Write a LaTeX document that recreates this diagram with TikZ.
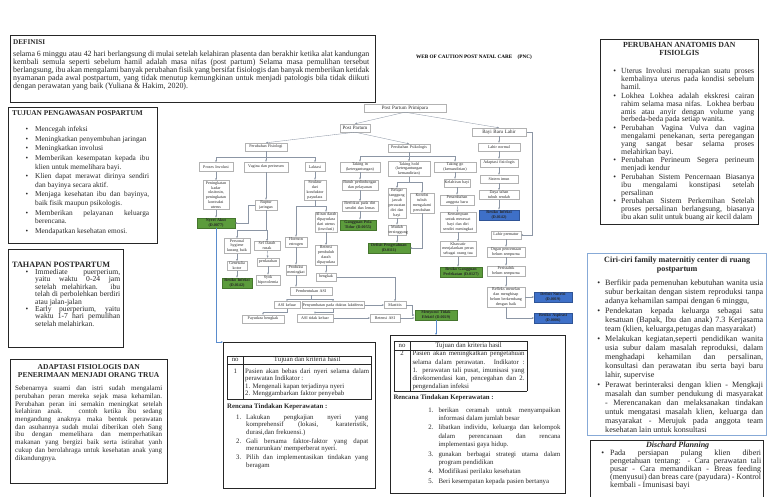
\documentclass[tikz,border=0pt]{standalone}
\usepackage{fontspec}
\setmainfont{Liberation Serif}
\usepackage{array}
\usepackage{enumitem}
\usetikzlibrary{arrows.meta, positioning}
\definecolor{boxgray}{RGB}{178,178,178}
\definecolor{linegray}{RGB}{140,150,165}
\definecolor{dxgreen}{RGB}{92,156,60}
\definecolor{dxblue}{RGB}{62,112,200}
\definecolor{linkblue}{RGB}{90,140,205}
\definecolor{ciriblue}{RGB}{135,170,215}
\definecolor{teks}{RGB}{40,40,40}
\tikzstyle{box}=[draw=boxgray,fill=white,rectangle,font=\flowf,align=center,inner sep=0.8pt,minimum height=8pt,text=teks]
\tikzstyle{kepala}=[box,font=\kepalaf]
\tikzstyle{dgreen}=[box,draw=dxgreen!75!black,fill=dxgreen,font=\flowf\bfseries,text=black!85]
\tikzstyle{dblue}=[box,draw=dxblue!75!black,fill=dxblue,font=\flowf\bfseries,text=black!85]
\tikzstyle{panel}=[draw=black!85,line width=0.9pt]
\tikzstyle{paneltext}=[anchor=north west,inner sep=0pt,text=teks]
\tikzstyle{conn}=[draw=linegray,line width=0.35pt]
\tikzstyle{biru}=[draw=linkblue,line width=0.5pt]
\newcommand{\flowf}{\fontsize{4.1}{4.9}\selectfont}
\newcommand{\kepalaf}{\fontsize{5}{5.8}\selectfont}
\newcommand{\judulf}{\fontsize{5.2}{6}\selectfont\bfseries}
\hyphenpenalty=10000
\exhyphenpenalty=10000
\emergencystretch=2em

\begin{document}
\begin{tikzpicture}[x=1pt,y=-1pt,>={Stealth[length=2.2pt,width=1.8pt]}]
    \useasboundingbox (0,0) rectangle (768,497);
    \fill[white] (0,0) rectangle (768,497);

    \node[font=\judulf] (judul) at (474,57) {WEB OF CAUTION POST NATAL CARE\quad(PNC)};

    % panel kiri
    \draw[panel] (10,35) rectangle (375,102);
    \node[paneltext] (definisi) at (13,40) {\begin{minipage}{356pt}\fontsize{7.9}{8.2}\selectfont
    {\fontsize{7.2}{8.2}\selectfont\textbf{DEFINISI}}\par\vspace{3pt}
    selama 6 minggu atau 42 hari berlangsung di mulai setelah kelahiran plasenta dan berakhir ketika alat kandungan kembali semula seperti sebelum hamil adalah masa nifas (post partum) Selama masa pemulihan tersebut berlangsung, ibu akan mengalami banyak perubahan fisik yang bersifat fisiologis dan banyak memberikan ketidak nyamanan pada awal postpartum, yang tidak menutup kemungkinan untuk menjadi patologis bila tidak diikuti dengan perawatan yang baik (Yuliana \& Hakim, 2020).
    \end{minipage}};

    \draw[panel] (8,107) rectangle (157,243);
    \node[paneltext] (tujuan) at (12,110.5) {\begin{minipage}{137pt}\fontsize{7.35}{8.3}\selectfont
    \textbf{TUJUAN PENGAWASAN POSPARTUM}
    \begin{itemize}[label=\textbullet, leftmargin=23pt, labelsep=7pt, topsep=7.5pt, itemsep=1.5pt, parsep=0pt, partopsep=0pt]
    \item Mencegah infeksi
    \item Meningkatkan penyembuhan jaringan
    \item Meningkatkan involusi
    \item Memberikan kesempatan kepada ibu klien untuk memelihara bayi.
    \item Klien dapat merawat dirinya sendiri dan bayinya secara aktif.
    \item Menjaga kesehatan ibu dan bayinya, baik fisik maupun psikologis.
    \item Memberikan pelayanan keluarga berencana.
    \item Mendapatkan kesehatan emosi.
    \end{itemize}
    \end{minipage}};

    \draw[panel] (8,249) rectangle (123,347);
    \node[paneltext] (tahapan) at (12,261.5) {\begin{minipage}{108pt}\fontsize{7.6}{7.4}\selectfont
    {\fontsize{8.2}{7.4}\selectfont\textbf{TAHAPAN POSTPARTUM}}
    \begin{itemize}[label=\textbullet, leftmargin=23pt, labelsep=7pt, topsep=0pt, itemsep=0pt, parsep=0pt, partopsep=0pt]
    \item Immediate puerperium, yaitu waktu 0-24 jam setelah melahirkan. ibu telah di perbolehkan berdiri atau jalan-jalan
    \item Early puerperium, yaitu waktu 1-7 hari pemulihan setelah melahirkan.
    \end{itemize}
    \end{minipage}};

    \draw[panel] (10,359) rectangle (167,483);
    \node[paneltext] (adaptasi) at (15,364) {\begin{minipage}{147pt}\fontsize{7}{7.7}\selectfont
    {\centering\fontsize{7.5}{7.9}\selectfont\textbf{ADAPTASI FISIOLOGIS DAN\\PENERIMAAN MENJADI ORANG TRUA}\par}\vspace{6pt}
    Sebenarnya suami dan istri sudah mengalami perubahan peran mereka sejak masa kehamilan. Perubahan peran ini semakin meningkat setelah kelahiran anak. contoh ketika ibu sedang mengandung anaknya maka bentuk perawatan dan asuhannya sudah mulai diberikan oleh Sang ibu dengan memelihara dan memperhatikan makanan yang bergizi baik serta istirahat yanh cukup dan berolahraga untuk kesehatan anak yang dikandungnya.
    \end{minipage}};

    % panel kanan
    \begin{scope}
    \clip (600,39) rectangle (758,223.5);
    \node[paneltext] (anatomi) at (604,42) {\begin{minipage}{150pt}\fontsize{7.8}{7.95}\selectfont
    {\centering\textbf{PERUBAHAN ANATOMIS DAN\\FISIOLGIS}\par}
    \begin{itemize}[label=\textbullet, leftmargin=17pt, labelsep=5pt, topsep=10.5pt, itemsep=0.5pt, parsep=0pt, partopsep=0pt]
    \item Uterus Involusi merupakan suatu proses kembalinya uterus pada kondisi sebelum hamil.
    \item Lokhea Lokhea adalah ekskresi cairan rahim selama masa nifas. Lokhea berbau amis atau anyir dengan volume yang berbeda-beda pada setiap wanita.
    \item Perubahan Vagina Vulva dan vagina mengalami penekanan, serta peregangan yang sangat besar selama proses melahirkan bayi.
    \item Perubahan Perineum Segera perineum menjadi kendur
    \item Perubahan Sistem Pencernaan Biasanya ibu mengalami konstipasi setelah persalinan
    \item Perubahan Sistem Perkemihan Setelah proses persalinan berlangsung, biasanya ibu akan sulit untuk buang air kecil dalam
    \end{itemize}
    \end{minipage}};
    \end{scope}
    \draw[panel] (600,39) rectangle (758,224);

    \begin{scope}
    \clip (587,253) rectangle (766,431.5);
    \node[paneltext] (ciri) at (591,257) {\begin{minipage}{172pt}\fontsize{8.1}{9}\selectfont
    {\centering\textbf{Ciri-ciri family maternitiy center di ruang\\postpartum}\par}
    \begin{itemize}[label=\textbullet, leftmargin=14pt, labelsep=5pt, topsep=5pt, itemsep=0.8pt, parsep=0pt, partopsep=0pt]
    \item Berfikir pada pemenuhan kebutuhan wanita usia subur berkaitan dengan sistem reproduksi tanpa adanya kehamilan sampai dengan 6 minggu,
    \item Pendekatan kepada keluarga sebagai satu kesatuan (Bapak, Ibu dan anak) 7.3 Kerjasama team (klien, keluarga,petugas dan masyarakat)
    \item Melakukan kegiatan,seperti pendidikan wanita\linebreak usia subur dalam masalah reproduksi, dalam\linebreak menghadapi kehamilan dan persalinan,\linebreak konsultasi dan perawatan ibu serta bayi baru lahir, supervise
    \item Perawat berinteraksi dengan klien - Mengkaji masalah dan sumber pendukung di masyarakat - Merencanakan dan melaksanakan tindakan untuk mengatasi masalah klien, keluarga dan masyarakat - Merujuk pada anggota team kesehatan lain untuk konsultasi
    \end{itemize}
    \end{minipage}};
    \end{scope}
    \draw[draw=ciriblue,line width=0.9pt] (587,253) rectangle (766,435);

    \draw[panel] (590,440) rectangle (763,505);
    \node[paneltext] (dischard) at (594,442) {\begin{minipage}{167pt}\fontsize{8.02}{8}\selectfont
    {\centering\textbf{\textit{Dischard Planning}}\par}
    \begin{itemize}[label=\textbullet, leftmargin=16pt, labelsep=6pt, topsep=0pt, itemsep=0pt, parsep=0pt, partopsep=0pt]
    \item Pada persiapan pulang klien diberi\linebreak pengetahuan tentang: - Cara perawatan tali\linebreak pusar - Cara memandikan - Breas feeding\linebreak (menyusui) dan breas care (payudara) - Kontrol\linebreak kembali - Imunisasi bayi
    \end{itemize}
    \end{minipage}};

    % tabel
    \draw[panel] (223,342) rectangle (375,488);
    \node[paneltext] (tabel1) at (227,356) {\begin{minipage}{145pt}\fontsize{6.8}{7.5}\selectfont
    \setlength{\tabcolsep}{2pt}\setlength{\arrayrulewidth}{0.5pt}
    \begin{tabular}{|>{\centering\arraybackslash}p{11pt}|p{124pt}|}\hline
    no & \multicolumn{1}{c|}{Tujuan dan kriteria hasil}\\\hline
    1\rule{0pt}{8.5pt} & \rule{0pt}{8.5pt}Pasien akan bebas dari nyeri selama dalam perawatan Indikator :\newline 1. Mengenali kapan terjadinya nyeri\newline 2. Menggambarkan faktor penyebab\rule[-3pt]{0pt}{3pt}\\\hline
    \end{tabular}\par\vspace{3.5pt}
    \textbf{Rencana Tindakan Keperawatan :}
    \begin{enumerate}[label=\arabic*., leftmargin=19pt, rightmargin=4pt, labelsep=5pt, topsep=3.5pt, itemsep=1.5pt, parsep=0pt, partopsep=0pt]
    \item Lakukan pengkajian nyeri yang komprehensif (lokasi, karateristik, durasi,dan frekuensi.)
    \item Gali bersama faktor-faktor yang dapat menurunkan/ memperberat nyeri.
    \item Pilih dan implementasikan tindakan yang beragam
    \end{enumerate}
    \end{minipage}};

    \draw[panel] (390,335) rectangle (565,493);
    \node[paneltext] (tabel2) at (393.3,340.7) {\begin{minipage}{167pt}\fontsize{6.8}{8.2}\selectfont
    \setlength{\tabcolsep}{2pt}\setlength{\arrayrulewidth}{0.5pt}
    \begin{tabular}{|>{\centering\arraybackslash}p{12pt}|p{112pt}|}\hline
    no & \multicolumn{1}{c|}{Tujuan dan kriteria hasil}\\\hline
    2 & Pasien akan meningkatkan pengetahuan selama dalam perawatan. Indikator : 1. perawatan tali pusat, imunisasi yang direkomendasi kan, pencegahan dan 2. pengendalian infeksi\\\hline
    \end{tabular}\par\vspace{2pt}
    \textbf{Rencana Tindakan Keperawatan :}
    \begin{enumerate}[label=\arabic*., leftmargin=45pt, labelsep=5pt, topsep=4.5pt, itemsep=1.5pt, parsep=0pt, partopsep=0pt]
    \item berikan ceramah untuk menyampaikan informasi dalam jumlah besar
    \item libatkan individu, keluarga dan kelompok dalam perencanaan dan rencana implementasi gaya hidup.
    \item gunakan berbagai strategi utama dalam program pendidikan
    \item Modifikasi perilaku kesehatan
    \item Beri kesempatan kepada pasien bertanya
    \end{enumerate}
    \end{minipage}};

    % web of caution
    \node[kepala, text width=80pt] (pp0) at (405,108) {Post Partum Primipara};
    \node[kepala, text width=28pt] (pp) at (355,128) {Post Partum};
    \node[kepala, text width=53pt] (bbl) at (499,132) {Bayi Baru Lahir};
    \node[box, text width=41pt] (fis) at (266,147) {Perubahan Fisiologi};
    \node[box, text width=41pt] (psi) at (409,148) {Perubahan Psikologis};

    \node[box, text width=33pt, minimum height=9pt] (inv) at (216,167) {Proses Involusi};
    \node[box, text width=42pt, minimum height=10pt] (vag) at (266,167) {Vagina dan perineum};
    \node[box, text width=19pt, minimum height=9pt] (lak) at (315,167) {Laktasi};
    \node[box, text width=25pt] (oks) at (216,195) {Peningkatan kadar oksitosin, peningkatan kontraksi uterus};
    \node[dgreen, text width=36pt] (nyeri) at (216,223) {Nyeri Akut\\(D.0077)};
    \node[box, text width=20pt] (rup) at (266,205) {Ruptur jaringan};
    \node[box, text width=24pt] (ph) at (237,246) {Personal hygiene kurang baik};
    \node[box, text width=19pt] (gen) at (237,266) {Genetalia kotor};
    \node[dgreen, text width=28pt] (rinf1) at (237,283) {Resiko Infeksi\\(D.0142)};
    \node[box, text width=24pt] (sel) at (267,246) {Sel Darah rusak};
    \node[box, text width=21pt] (perd) at (268,262) {perdarahan};
    \node[box, text width=22pt] (syok) at (268,280) {Syok hipovolemia};
    \node[box, text width=20pt] (str) at (315,190) {Struktur dari konduktor payudara};
    \node[box, text width=20pt] (hor) at (296,242) {Hormon estrogen};
    \node[box, text width=21pt] (ali) at (326,222) {Aliran darah dipayudara dari uterus (involusi)};
    \node[box, text width=21pt] (ret) at (326,255) {Retensi pembuluh darah dipayudara};
    \node[box, text width=19pt] (beng) at (326,277) {bengkak};
    \node[box, text width=18pt] (prod) at (296,270) {Produksi meningkat};
    \node[box, text width=40pt] (pemb) at (311,291) {Pembentukan ASI};
    \node[box, text width=25pt, minimum height=7pt] (asik) at (287,305) {ASI keluar};
    \node[box, text width=61pt, minimum height=7pt] (peny) at (333,305) {Penyumbatan pada duktus laktiferus};
    \node[box, text width=20pt, minimum height=7pt] (mast) at (395,305) {Mastitis};
    \node[box, text width=40pt] (payb) at (263,319) {Payudara bengkak};
    \node[box, text width=35pt] (asit) at (315,318) {ASI tidak keluar};
    \node[box, text width=28pt] (reta) at (385,318) {Retensi ASI};
    \node[dgreen, text width=41pt] (mte) at (436,315) {Menyusui Tidak\\Efektif (D.0029)};

    \node[box, text width=38pt] (tin) at (360,167) {Taking in\\(ketergantungan)};
    \node[box, text width=40pt] (thold) at (409,169) {Taking hold\\(ketergantungan\\kemandirian)};
    \node[box, text width=40pt] (tgo) at (455,167) {Taking go\\(kemandirian)};
    \node[box, text width=34pt] (butuh) at (360,185) {Butuh perlindungan dan pelayanan};
    \node[box, text width=34pt] (fokus) at (360,206) {Berfokus pada diri sendiri dan lemas};
    \node[dgreen, text width=35pt] (gpt) at (358,225) {Gangguan Pola\\Tidur (D.0055)};
    \node[box, text width=17pt] (bel) at (397,203) {Belajar tanggung jawab perawatan diri dan bayi};
    \node[box, text width=23pt] (kond) at (422,203) {Kondisi tubuh mengalami perubahan};
    \node[box, text width=17pt] (mudah) at (397,230) {Mudah tersinggung};
    \node[dgreen, text width=40pt] (defp) at (389,248) {Defisit Pengetahuan\\(D.0111)};
    \node[box, text width=25pt] (kel) at (457,183) {Kelahiran bayi};
    \node[box, text width=33pt] (tamb) at (457,200) {Penambahan anggota baru};
    \node[box, text width=35pt] (kem) at (458,222) {Kemampuan untuk merawat bayi dan diri sendiri meningkat};
    \node[box, text width=35pt] (khaw) at (458,249) {Khawatir menjalankan peran sebagai orang tua};
    \node[dgreen, text width=41pt] (rgp) at (461,272) {Resiko Gangguan\\Perlekatan (D.0127)};

    \node[box, text width=40pt] (lnor) at (499,147) {Lahir normal};
    \node[box, text width=36pt] (adap) at (499,163) {Adaptasi fisiologis};
    \node[box, text width=36pt] (imun) at (499,179) {Sistem imun};
    \node[box, text width=38pt] (daya) at (499,195) {Daya tahan tubuh rendah};
    \node[dblue, text width=38pt] (rinf2) at (499,215) {Resiko Infeksi\\(D.0142)};
    \node[box, text width=28pt] (prem) at (506,235) {Lahir prematur};
    \node[box, text width=36pt] (organ) at (506,252) {Organ pencernaan belum sempurna};
    \node[box, text width=36pt] (peris) at (506,271) {Peristaltik belum sempurna};
    \node[box, text width=36pt] (refl) at (506,297) {Refleks menelan dan menghisap belum berkembang dengan baik};
    \node[dblue, text width=36pt] (defnut) at (553,297) {Defisit Nutrisi\\(D.0019)};
    \node[dblue, text width=36pt] (rasp) at (553,318) {Resiko Aspirasi\\(D.0006)};

    \coordinate (kf) at (266,157);
    \coordinate (kr) at (266,230);
    \coordinate (ks) at (315,206);
    \coordinate (kp) at (311,299);
    \coordinate (kps) at (409,156);
    \coordinate (kh) at (409,182);
    \coordinate (t1) at (223,342);
    \coordinate (t2) at (436,335);

    \draw[conn,->] (pp0.south) -- (pp.north);
    \draw[conn,->] (pp0.south) -- (bbl.north);
    \draw[conn,->] (pp.south) -- (fis.north);
    \draw[conn,->] (pp.south) -- (psi.north);

    \draw[conn] (fis) -- (kf);
    \draw[conn,->] (kf) -| (inv);
    \draw[conn,->] (kf) -- (vag);
    \draw[conn,->] (kf) -| (lak);
    \draw[conn,->] (inv) -- (oks);
    \draw[conn,->] (oks) -- (nyeri);
    \draw[conn,->] (vag) -- (rup);
    \draw[conn,->] (rup.west) -- ++(-7,0) |- (nyeri.east);
    \draw[conn] (rup) -- (kr);
    \draw[conn,->] (kr) -| (ph);
    \draw[conn,->] (kr) -| (sel);
    \draw[conn,->] (ph) -- (gen);
    \draw[conn,->] (gen) -- (rinf1);
    \draw[conn,->] (sel) -- (perd);
    \draw[conn,->] (perd) -- (syok);
    \draw[conn,->] (lak) -- (str);
    \draw[conn] (str) -- (ks);
    \draw[conn,->] (ks) -| (hor);
    \draw[conn,->] (ks) -| (ali);
    \draw[conn,->] (hor) -- (prod);
    \draw[conn,->] (prod.south) -- (prod.south |- pemb.north);
    \draw[conn,->] (ali) -- (ret);
    \draw[conn,->] (ret) -- (beng);
    \draw[conn,->] (beng.east) -| (mast.north);
    \draw[conn] (pemb) -- (kp);
    \draw[conn,->] (kp) -| (asik);
    \draw[conn,->] (kp) -| (peny);
    \draw[conn,->] (asik.south) -- ++(0,3) -| (payb.north);
    \draw[conn,->] (peny.south) -- ++(0,3) -| (asit.north);
    \draw[conn,->] (peny) -- (mast);
    \draw[conn,->] (asit) -- (reta);
    \draw[conn,->] (mast.east) -- ++(6,0) |- (mte.west);
    \draw[conn,->] (reta.east) -- (reta.east -| mte.west);

    \draw[conn] (psi) -- (kps);
    \draw[conn,->] (kps) -| (tin);
    \draw[conn,->] (kps) -- (thold);
    \draw[conn,->] (kps) -| (tgo);
    \draw[conn,->] (tin) -- (butuh);
    \draw[conn,->] (butuh) -- (fokus);
    \draw[conn,->] (fokus.south) -- (fokus.south |- gpt.north);
    \draw[conn] (thold) -- (kh);
    \draw[conn,->] (kh) -| (bel);
    \draw[conn,->] (kh) -| (kond);
    \draw[conn,->] (bel) -- (mudah);
    \draw[conn,->] (mudah.south) -- (mudah.south |- defp.north);
    \draw[conn,->] (kond.south) |- (defp.east);
    \draw[conn,->] (tgo.south) -- (tgo.south |- kel.north);
    \draw[conn,->] (kel) -- (tamb);
    \draw[conn,->] (tamb) -- (kem);
    \draw[conn,->] (kem) -- (khaw);
    \draw[conn,->] (khaw.south) -- (khaw.south |- rgp.north);

    \draw[conn,->] (bbl) -- (lnor);
    \draw[conn,->] (lnor) -- (adap);
    \draw[conn,->] (adap) -- (imun);
    \draw[conn,->] (imun) -- (daya);
    \draw[conn,->] (daya) -- (rinf2);
    \draw[conn,->] (bbl.east) -- ++(6,0) |- (prem.east);
    \draw[conn,->] (prem) -- (organ);
    \draw[conn,->] (organ) -- (peris);
    \draw[conn,->] (peris) -- (refl);
    \draw[conn,->] (refl) -- (defnut);
    \draw[conn,->] (refl.south) |- (rasp.west);

    \draw[biru,->] (nyeri.south) |- (t1);
    \draw[biru,->] (mte.south) -- (t2);
\end{tikzpicture}
\end{document}
